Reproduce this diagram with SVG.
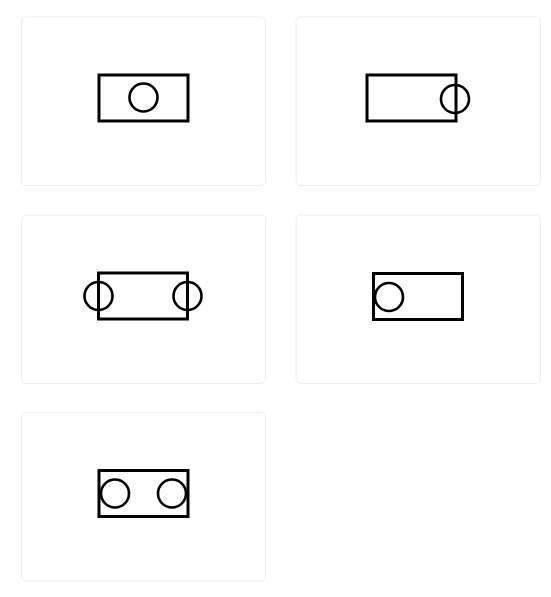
<svg xmlns="http://www.w3.org/2000/svg" width="551" height="597" viewBox="0 0 551 597">
<style>
.card{fill:#ffffff;stroke:#ececec;stroke-width:1}
.box{fill:none;stroke:#000;stroke-width:3}
.port{fill:none;stroke:#000;stroke-width:2.6}
</style>
<rect width="551" height="597" fill="#ffffff"/>
<g id="card1">
<rect class="card" x="21.5" y="17" width="244" height="168.5" rx="5"/>
<rect class="box" x="99" y="75" width="89" height="46"/>
<circle class="port" cx="143.5" cy="97.5" r="14"/>
</g>
<g id="card2">
<rect class="card" x="296" y="17" width="244.5" height="168.5" rx="5"/>
<rect class="box" x="367" y="75" width="89" height="46"/>
<circle class="port" cx="455" cy="99" r="14"/>
</g>
<g id="card3">
<rect class="card" x="21.5" y="215" width="244" height="168.5" rx="5"/>
<rect class="box" x="98.5" y="273" width="89" height="46"/>
<circle class="port" cx="98.5" cy="296" r="14"/>
<circle class="port" cx="187.5" cy="296" r="14"/>
</g>
<g id="card4">
<rect class="card" x="296" y="215" width="244.5" height="168.5" rx="5"/>
<rect class="box" x="373.5" y="273.5" width="89" height="46"/>
<circle class="port" cx="389" cy="297" r="14"/>
</g>
<g id="card5">
<rect class="card" x="21.5" y="412.5" width="244" height="168.5" rx="5"/>
<rect class="box" x="99" y="470.5" width="89" height="46"/>
<circle class="port" cx="115" cy="493.5" r="14"/>
<circle class="port" cx="172" cy="493.5" r="14"/>
</g>
<g id="connectors"></g>
</svg>
